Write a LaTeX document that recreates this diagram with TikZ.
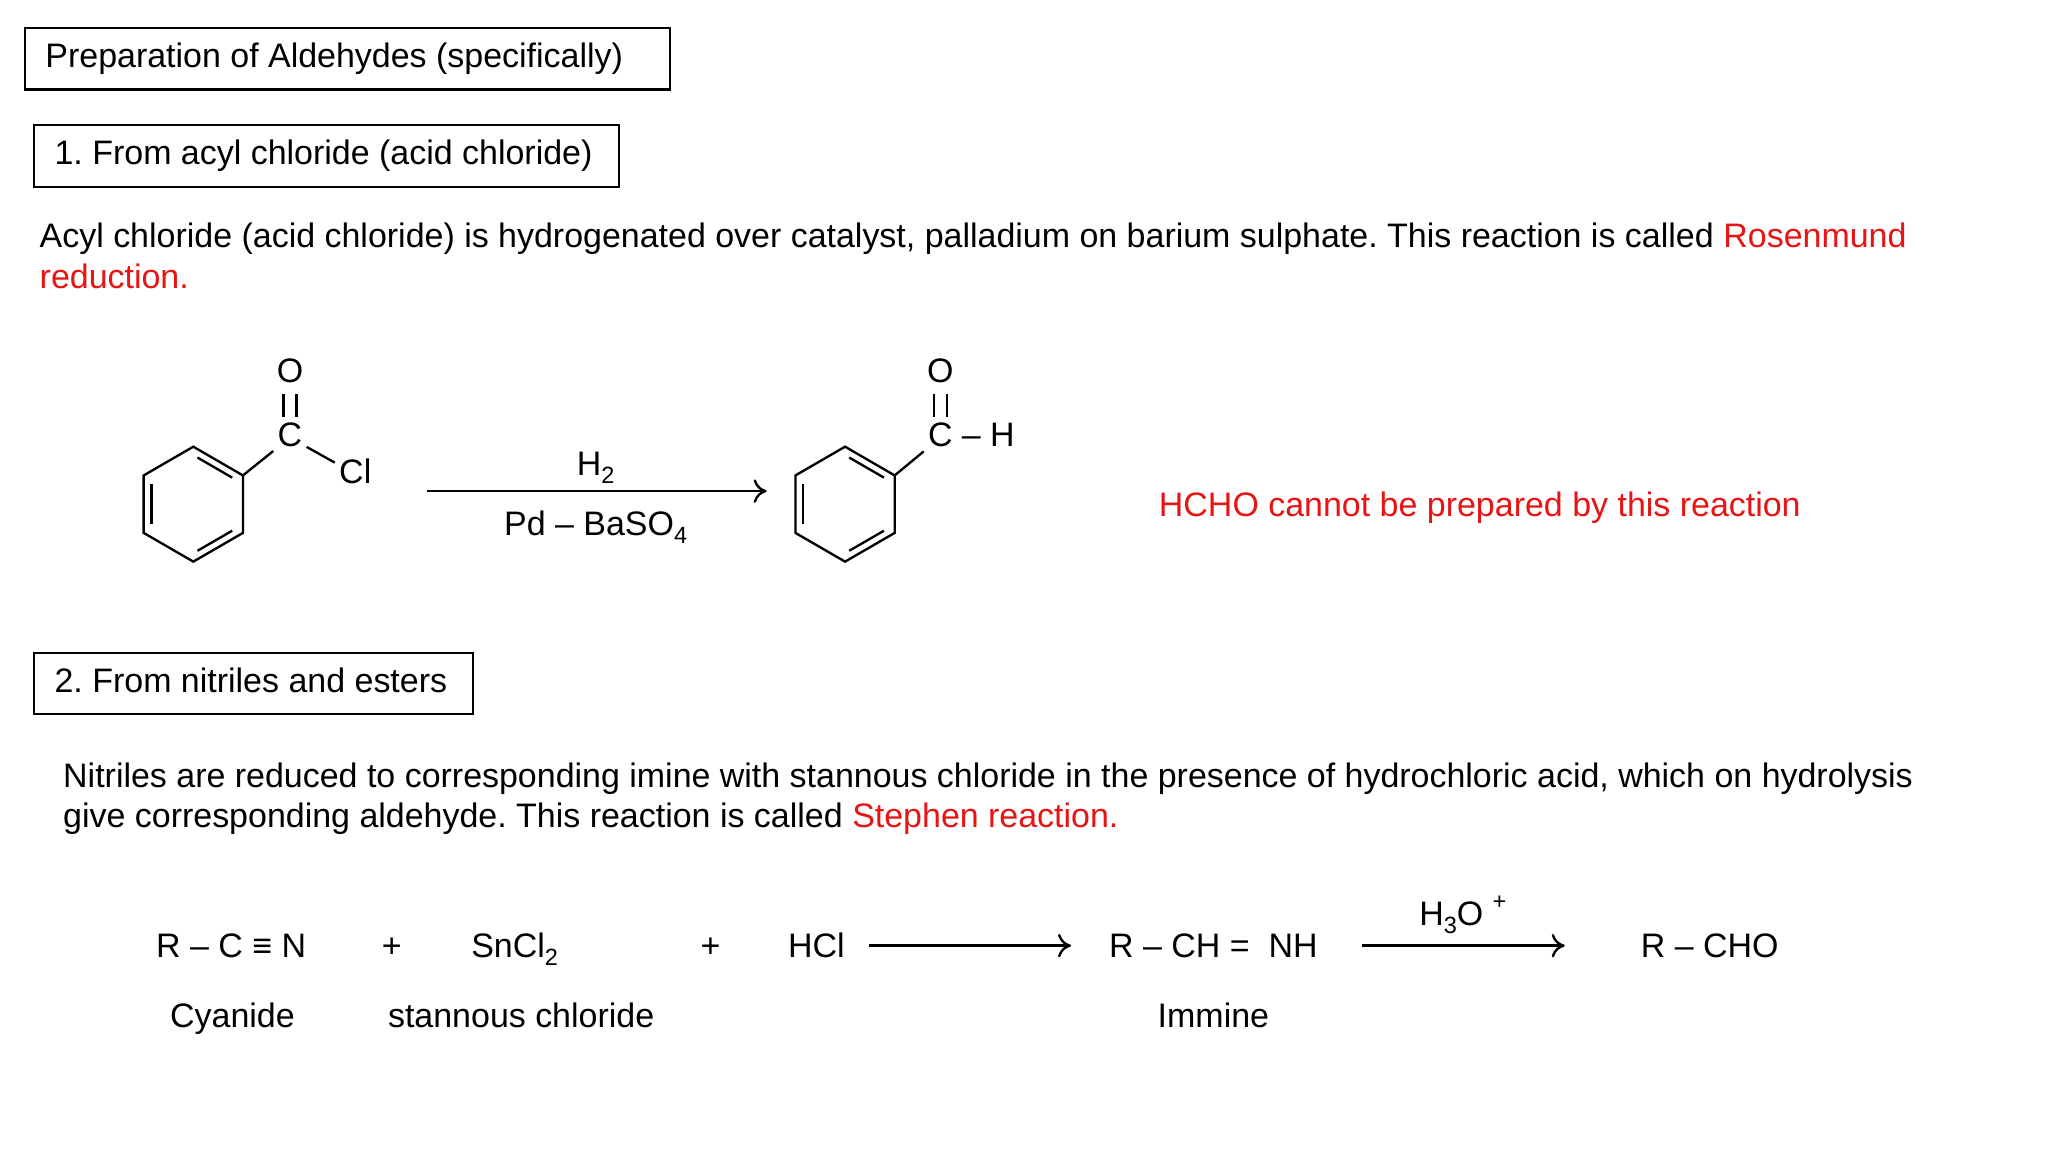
\documentclass[tikz,border=0pt]{standalone}
\usepackage{fontspec}
\setmainfont{Liberation Sans}
\usetikzlibrary{calc,arrows.meta}
\definecolor{rred}{RGB}{232,20,20}
\frenchspacing
\newcommand{\sbs}[1]{\raisebox{-0.45ex}{\fontsize{9pt}{9pt}\selectfont #1}}
\newcommand{\lbox}[2]{\makebox[#1][l]{#2}}
\begin{document}
\begin{tikzpicture}[x=0.5pt,y=-0.5pt,
  txt/.style={font=\fontsize{13pt}{15pt}\selectfont,inner sep=0pt,text height=9.6pt,text depth=2.8pt},
  boxed/.style={txt,draw,line width=0.8pt,anchor=west,inner xsep=8pt,inner ysep=0pt,minimum height=23.5pt},
  bond/.style={line width=0.9pt},
  atom/.style={txt,inner sep=1.5pt},
  arr/.style={line width=0.9pt,-{To[length=5pt,width=9pt]}}]
\useasboundingbox (0,0) rectangle (1568,882);
\fill[white] (0,0) rectangle (1568,882);
\node[boxed] (t) at (18,45) {\lbox{231pt}{Preparation of Aldehydes (specifically)}};
\node[boxed] (b1) at (25,119.5) {\lbox{208pt}{1. From acyl chloride (acid chloride)}};
\node[txt,anchor=west] (p1) at (30,183) {Acyl chloride (acid chloride) is hydrogenated over catalyst, palladium on barium sulphate. This reaction is called \textcolor{rred}{Rosenmund}};
\node[txt,anchor=west,text=rred] (p1b) at (30,214) {reduction.};
\foreach \c/\n in {148/A,647/B}{
  \coordinate (\n1) at (\c,342);
  \coordinate (\n2) at (\c+38,364);
  \coordinate (\n3) at (\c+38,408);
  \coordinate (\n4) at (\c,430);
  \coordinate (\n5) at (\c-38,408);
  \coordinate (\n6) at (\c-38,364);
  \draw[bond] (\n1)--(\n2)--(\n3)--(\n4)--(\n5)--(\n6)--cycle;
  \draw[bond] ($(\n1)!0.15!(\n2)+(-2.5,5)$) -- ($(\n1)!0.85!(\n2)+(-2.5,5)$);
  \draw[bond] ($(\n3)!0.15!(\n4)+(-2.5,-5)$) -- ($(\n3)!0.85!(\n4)+(-2.5,-5)$);
  \draw[bond] ($(\n5)!0.15!(\n6)+(6,0)$) -- ($(\n5)!0.85!(\n6)+(6,0)$);
}
\node[atom] (C1) at (222,335) {C};
\node[atom] (O1) at (222,286) {O};
\node[atom] (Cl) at (272,363) {Cl};
\draw[bond] (A2) -- (C1);
\draw[bond] ([xshift=-2.5pt]C1.north) -- ([xshift=-2.5pt]O1.south);
\draw[bond] ([xshift=2.5pt]C1.north) -- ([xshift=2.5pt]O1.south);
\draw[bond] (C1) -- (Cl);
\node[atom] (C2) at (720,335) {C};
\node[atom,anchor=west] (H2) at (733,335) {– H};
\node[atom] (O2) at (720,286) {O};
\draw[bond] (B2) -- (C2);
\draw[bond] ([xshift=-2.5pt]C2.north) -- ([xshift=-2.5pt]O2.south);
\draw[bond] ([xshift=2.5pt]C2.north) -- ([xshift=2.5pt]O2.south);
\coordinate (a1s) at (327,376); \coordinate (a1e) at (587,376);
\draw[arr] (a1s) -- (a1e);
\node[txt] (h2) at (456,357) {H\sbs{2}};
\node[txt] (pd) at (456,403) {Pd – BaSO\sbs{4}};
\node[txt,text=rred] (hc) at (1133,389) {HCHO cannot be prepared by this reaction};
\node[boxed] (b2) at (25,523.5) {\lbox{152pt}{2. From nitriles and esters}};
\node[txt,anchor=west] (p2) at (48,596) {Nitriles are reduced to corresponding imine with stannous chloride in the presence of hydrochloric acid, which on hydrolysis};
\node[txt,anchor=west] (p2b) at (48,627) {give corresponding aldehyde. This reaction is called \textcolor{rred}{Stephen reaction.}};
\node[txt] (r1) at (177,726) {R – C ≡ N};
\node[txt] (pl1) at (300,726) {+};
\node[txt] (sn) at (394,726) {SnCl\sbs{2}};
\node[txt] (pl2) at (544,726) {+};
\node[txt] (hcl) at (625,726) {HCl};
\node[txt] (im) at (929,726) {R – CH =\ \ NH};
\node[txt] (cho) at (1309,726) {R – CHO};
\coordinate (a2s) at (665,724); \coordinate (a2e) at (820,724);
\coordinate (a3s) at (1043,724); \coordinate (a3e) at (1198,724);
\draw[arr] (a2s) -- (a2e);
\draw[arr] (a3s) -- (a3e);
\node[txt] (h3o) at (1120,702) {H\sbs{3}O \raisebox{0.9ex}{\fontsize{9pt}{9pt}\selectfont +}};
\node[txt] (cy) at (178,780) {Cyanide};
\node[txt] (sc) at (399,780) {stannous chloride};
\node[txt] (imm) at (929,780) {Immine};
\end{tikzpicture}
\end{document}
